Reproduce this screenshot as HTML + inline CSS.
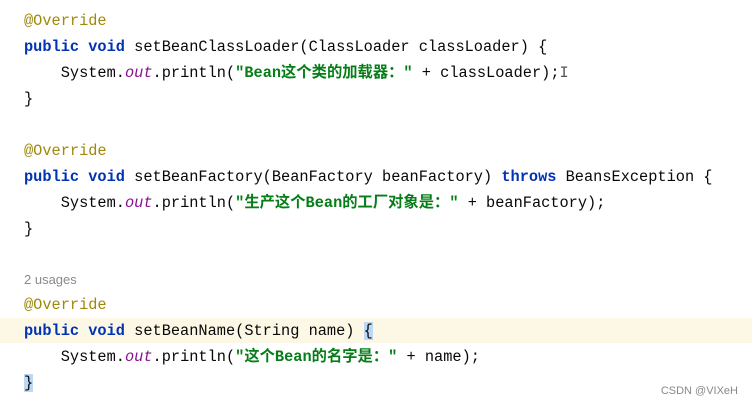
<!DOCTYPE html>
<html><head><meta charset="utf-8"><style>
html,body{margin:0;padding:0;background:#fff;width:752px;height:407px;overflow:hidden;position:relative}
.l{position:absolute;left:24px;font-family:"Liberation Mono","Noto Sans CJK SC",monospace;font-size:15.3px;line-height:20px;color:#080808;white-space:pre}
.k{color:#0033b3;font-weight:bold}
.a{color:#9e880d}
.s{color:#067d17;font-weight:bold}
.o{color:#871094;font-style:italic}
.u{position:absolute;left:24px;font-family:"Liberation Sans",sans-serif;font-size:13px;color:#8a8a8a}
.hl{position:absolute;left:0;top:318px;width:752px;height:25px;background:#fdf8e6}
.br{background:#bcd8f5}
.wm{position:absolute;right:14px;top:385px;font-family:"Liberation Sans",sans-serif;font-size:11px;color:#888}
</style></head><body>
<div class="hl"></div>
<div class="l" style="top:11px"><span class="a">@Override</span></div>
<div class="l" style="top:37px"><span class="k">public void</span> setBeanClassLoader(ClassLoader classLoader) {</div>
<div class="l" style="top:63px">    System.<span class="o">out</span>.println(<span class="s">"Bean这个类的加载器："</span> + classLoader);<span style="color:#555">I</span></div>
<div class="l" style="top:89px">}</div>
<div class="l" style="top:141px"><span class="a">@Override</span></div>
<div class="l" style="top:167px"><span class="k">public void</span> setBeanFactory(BeanFactory beanFactory) <span class="k">throws</span> BeansException {</div>
<div class="l" style="top:193px">    System.<span class="o">out</span>.println(<span class="s">"生产这个Bean的工厂对象是："</span> + beanFactory);</div>
<div class="l" style="top:219px">}</div>
<div class="u" style="top:272px">2 usages</div>
<div class="l" style="top:295px"><span class="a">@Override</span></div>
<div class="l" style="top:321px"><span class="k">public void</span> setBeanName(String name) <span class="br">{</span></div>
<div class="l" style="top:347px">    System.<span class="o">out</span>.println(<span class="s">"这个Bean的名字是："</span> + name);</div>
<div class="l" style="top:373px"><span class="br">}</span></div>
<div class="wm">CSDN @VIXeH</div>
</body></html>
